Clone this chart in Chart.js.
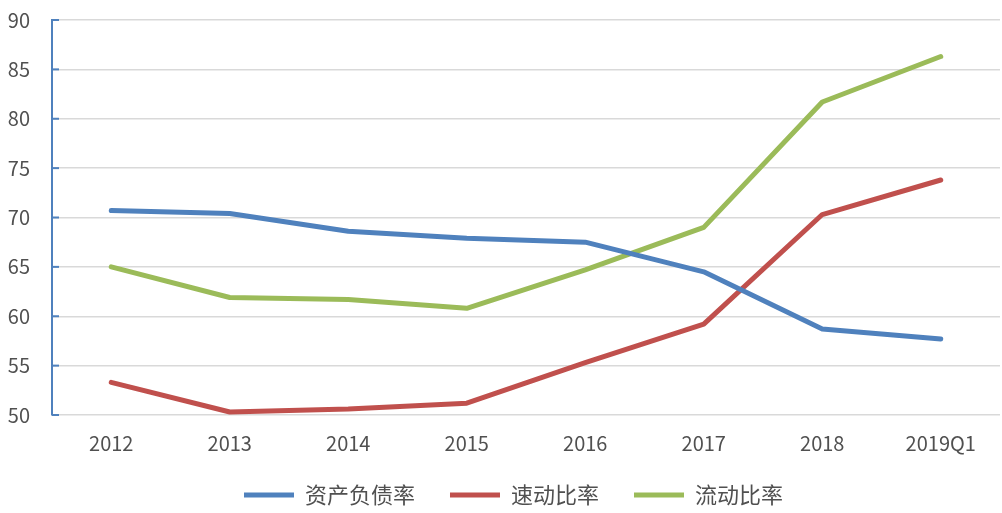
<!DOCTYPE html>
<html>
<head>
<meta charset="utf-8">
<script src="https://cdn.jsdelivr.net/npm/chart.js@4.4.1/dist/chart.umd.min.js"></script>
<style>
  html, body { margin: 0; padding: 0; background: #fff; }
  #wrap { width: 1002px; height: 513px; }
</style>
</head>
<body>
<div id="wrap"><canvas id="lineGraph"></canvas></div>
<script>
/* ================= Data ================= */

const years = ['2012', '2013', '2014', '2015', '2016', '2017', '2018', '2019Q1'];
const debtRatio = [70.7, 70.4, 68.6, 67.9, 67.5, 64.5, 58.7, 57.7];
const quickRatio = [53.3, 50.3, 50.6, 51.2, 55.3, 59.2, 70.3, 73.8];
const currentRatio = [65.0, 61.9, 61.7, 60.8, 64.7, 69.0, 81.7, 86.3];
const yTicks = [50, 55, 60, 65, 70, 75, 80, 85, 90];

/* ================= Line Chart ================= */

Chart.defaults.font.family = "'Noto Sans CJK SC', 'Noto Sans', sans-serif";
Chart.defaults.color = '#505050';

// short blue tick marks on the inner side of the y axis,
// and the legend centred a little to the right like the original
const innerTicks = {
  id: 'innerTicks',
  afterLayout(chart) {
    chart.legend.left = 27;
  },
  afterDraw(chart) {
    const y = chart.scales.y;
    const c = chart.ctx;
    c.save();
    c.strokeStyle = '#4f81bd';
    c.lineWidth = 2;
    yTicks.forEach(v => {
      const py = y.getPixelForValue(v);
      c.beginPath();
      c.moveTo(y.right, py);
      c.lineTo(y.right + 7, py);
      c.stroke();
    });
    c.restore();
  }
};

const gap = '\u2002\u2002';
const ctx = document.getElementById('lineGraph');

new Chart(ctx, {
  type: 'line',
  data: {
    labels: years,
    datasets: [{
      label: '资产负债率' + gap,
      data: debtRatio,
      borderColor: '#4f81bd',
      backgroundColor: '#4f81bd',
      borderWidth: 5,
      borderCapStyle: 'round',
      borderJoinStyle: 'round',
      pointRadius: 0
    }, {
      label: '速动比率' + gap,
      data: quickRatio,
      borderColor: '#c0504d',
      backgroundColor: '#c0504d',
      borderWidth: 5,
      borderCapStyle: 'round',
      borderJoinStyle: 'round',
      pointRadius: 0
    }, {
      label: '流动比率',
      data: currentRatio,
      borderColor: '#9bbb59',
      backgroundColor: '#9bbb59',
      borderWidth: 5,
      borderCapStyle: 'round',
      borderJoinStyle: 'round',
      pointRadius: 0
    }]
  },
  options: {
    responsive: true,
    maintainAspectRatio: false,
    animation: false,
    layout: { padding: { top: 20, right: 2, left: 0, bottom: -3 } },
    plugins: {
      tooltip: { enabled: false },
      legend: {
        position: 'bottom',
        labels: {
          usePointStyle: true,
          pointStyle: 'line',
          boxWidth: 50,
          pointStyleWidth: 50,
          padding: 13,
          font: { size: 22 }
        }
      }
    },
    scales: {
      x: {
        offset: true,
        grid: { display: false, drawTicks: false },
        border: { display: false },
        ticks: { font: { size: 20 }, padding: 16 }
      },
      y: {
        min: 50,
        max: 90,
        afterFit(scale) {
          scale.width = 52;
          scale.paddingTop = 0;
          scale.paddingBottom = 0;
        },
        afterBuildTicks(scale) { scale.ticks = yTicks.map(v => ({ value: v })); },
        border: { display: true, color: '#4f81bd', width: 2 },
        grid: { color: '#d9d9d9', lineWidth: 1.5, drawTicks: false },
        ticks: { font: { size: 20 }, padding: 22 }
      }
    }
  },
  plugins: [innerTicks]
});
</script>
</body>
</html>
